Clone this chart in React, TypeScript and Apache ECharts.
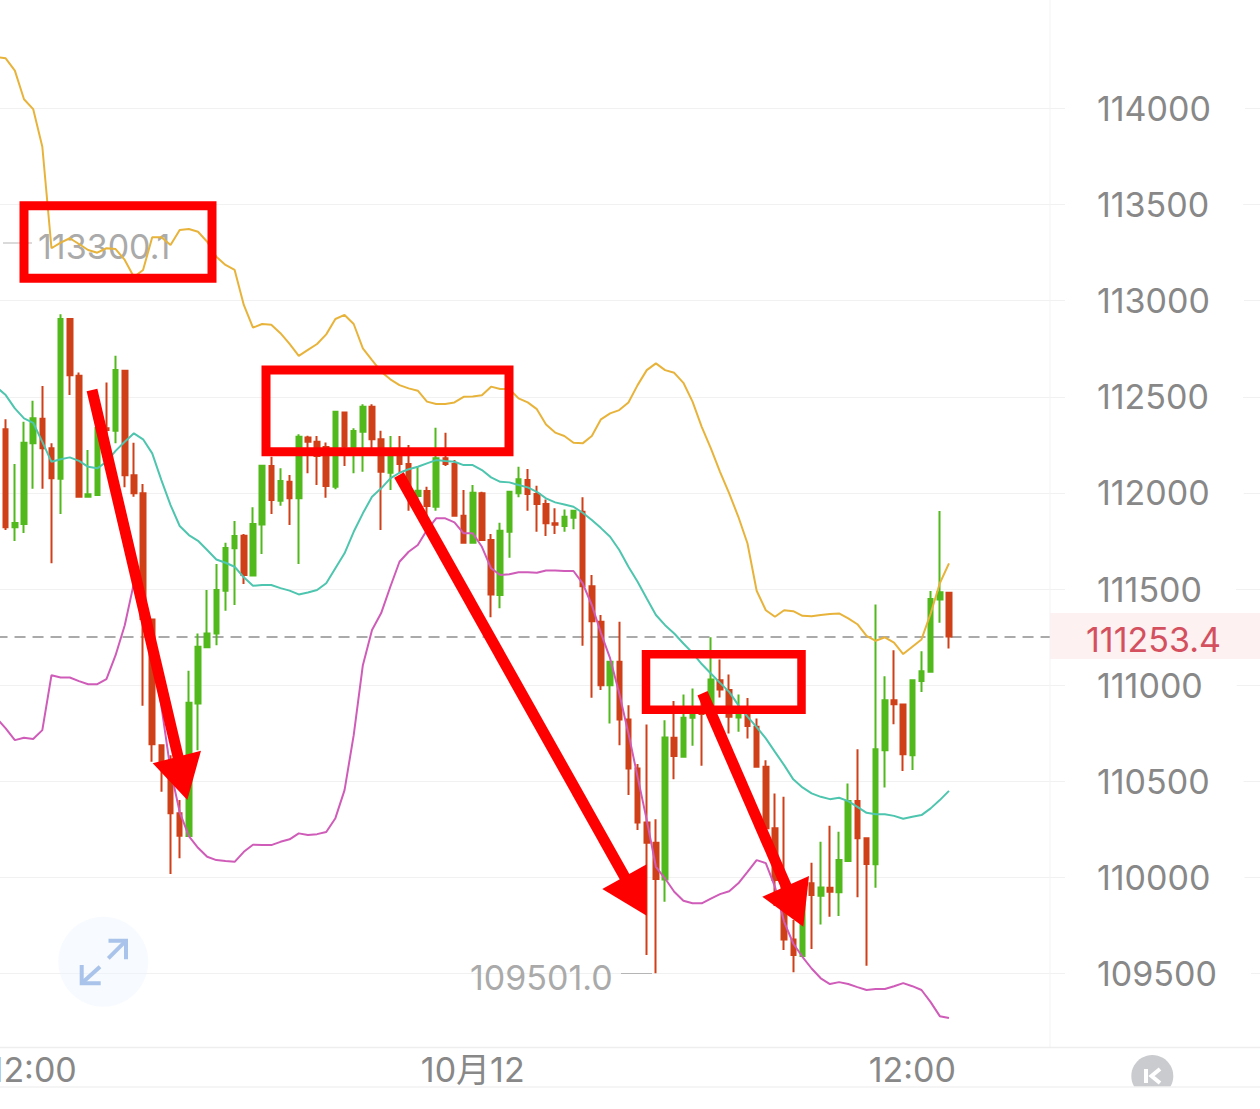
import React, { useEffect, useRef } from "react";
import * as echarts from "echarts";

// [open, close, low, high]
const candles: number[][] = [
  [112331,111821,111807,112384],[111822,111843,111750,112150],[111838,112261,111791,112370],[112258,112388,112022,112480],
  [112386,112232,112022,112556],[112232,112076,111634,112258],[112074,112905,111890,112929],[112905,112612,112509,112905],
  [112610,111980,111980,112627],[111980,111993,111980,112223],[111989,112338,111989,112495],[112336,112327,112223,112575],
  [112323,112639,112258,112714],[112636,112092,112029,112636],[112092,111998,111980,112261],[111998,111344,110893,112046],
  [111342,110692,110601,111342],[110688,110600,110445,110688],[110600,110333,110017,110636],[110333,110216,110099,110402],
  [110215,110908,110215,111075],[110905,111200,110662,111269],[111197,111269,111197,111495],[111269,111495,111208,111630],
  [111491,111713,111387,111741],[111712,111776,111417,111854],[111777,111573,111526,111786],[111571,111838,111571,111925],
  [111836,112141,111682,112141],[112140,111963,111890,112188],[111959,112062,111933,112128],[112058,111972,111833,112093],
  [111972,112292,111630,112305],[112289,112266,112102,112298],[112266,112192,112041,112296],[112239,112036,111975,112263],
  [112032,112422,112019,112422],[112419,112240,112140,112419],[112237,112322,112102,112336],[112318,112448,112110,112462],
  [112448,112279,112234,112462],[112279,112110,111807,112324],[112105,112188,112015,112296],[112223,112150,112103,112296],
  [112150,112006,111907,112249],[111984,112011,111954,112140],[112010,111932,111870,112032],[111928,112180,111907,112339],
  [112180,112150,112140,112313],[112150,111881,111881,112171],[111881,111741,111741,112015],[111741,112001,111741,112041],
  [111998,111755,111755,112006],[111755,111472,111353,111786],[111469,111803,111400,111845],[111798,112006,111663,112011],
  [111998,112071,111977,112136],[112067,111994,111907,112124],[111994,111942,111798,112037],[111942,111842,111776,111966],
  [111842,111834,111786,111920],[111828,111876,111798,111914],[111871,111907,111811,111907],[111902,111515,111205,111977],
  [111515,111333,110934,111573],[111330,111000,110975,111365],[111000,111122,110801,111122],[111122,110822,110688,111330],
  [110822,110567,110428,110896],[110567,110286,110246,110590],[110286,110180,109596,110796],[110180,109991,109501,110303],
  [109989,110728,109873,110818],[110726,110632,110511,110917],[110627,110830,110627,110952],[110830,110850,110685,110983],
  [110880,110850,110581,110948],[110896,111030,110896,111249],[111026,110978,110936,111134],[110975,110836,110749,111056],
  [110832,110887,110757,110952],[110848,110787,110723,110933],[110784,110575,110575,110827],[110575,110255,110255,110610],
  [110255,109986,109851,110437],[109986,109677,109622,110419],[109677,109596,109506,109778],[109591,109908,109591,109934],
  [109969,109908,109627,110076],[109904,109948,109755,110185],[109946,109925,109795,110268],[109923,110090,109799,110237],
  [110085,110397,110085,110489],[110397,110203,109896,110666],[110203,110069,109540,110203],[110068,110667,109946,111420],
  [110662,110922,110468,111047],[110922,110901,110797,111182],[110900,110640,110553,110900],[110636,111026,110558,111026],
  [111022,111073,110965,111177],[111070,111448,111070,111490],[111446,111483,111325,111906],[111481,111253,111191,111481],
];

// The first value of each band is the point just left of the visible area.
const upperBand = [
  114268,
  114261,114197,114048,113997,113801,113273,113302,113325,113295,113264,
  113250,113273,113269,113212,113123,113160,113330,113330,113290,113368,
  113373,113359,113307,113229,113186,113160,112978,112860,112879,112875,
  112831,112775,112713,112744,112775,112825,112905,112926,112879,112752,
  112691,112631,112591,112561,112544,112532,112475,112463,112463,112471,
  112500,112502,112508,112553,112541,112541,112492,112471,112436,112356,
  112314,112296,112261,112258,112296,112383,112414,112431,112471,112561,
  112639,112674,112639,112625,112573,112475,112344,112232,112110,111998,
  111876,111737,111491,111390,111356,111390,111385,111361,111358,111365,
  111370,111373,111347,111317,111257,111231,111249,111221,111162,111200,
  111238,111373,111530,111634,
];

const middleBand = [
  112551,
  112509,112440,112388,112365,112266,112162,112175,112185,112167,112136,
  112128,112162,112219,112266,112310,112279,112206,112067,111937,111828,
  111781,111751,111703,111654,111637,111616,111561,111517,111521,111521,
  111505,111492,111472,111482,111495,111530,111608,111686,111798,111894,
  111980,112024,112076,112105,112123,112136,112154,112171,112166,112162,
  112145,112145,112119,112081,112058,112055,112041,112029,112006,111972,
  111951,111940,111928,111897,111859,111817,111772,111703,111616,111538,
  111451,111365,111312,111269,111217,111168,111110,111061,111012,110965,
  110896,110836,110782,110723,110653,110584,110510,110468,110437,110419,
  110407,110414,110397,110367,110336,110328,110328,110320,110305,110315,
  110324,110359,110402,110450,
];

const lowerBand = [
  110829,
  110775,110714,110726,110720,110766,111052,111040,111040,111021,111005,
  111005,111031,111156,111312,111531,111442,111182,110891,110558,110340,
  110215,110154,110107,110090,110085,110081,110133,110170,110168,110168,
  110185,110198,110229,110220,110225,110236,110308,110454,110740,111104,
  111287,111375,111512,111642,111694,111729,111807,111868,111868,111847,
  111790,111790,111720,111608,111573,111577,111587,111587,111585,111597,
  111597,111594,111594,111530,111417,111271,111139,110957,110749,110523,
  110298,110055,109994,109925,109878,109865,109865,109890,109913,109928,
  109969,110029,110090,110074,109951,109769,109656,109587,109526,109475,
  109445,109455,109445,109429,109414,109419,109419,109434,109450,109434,
  109414,109351,109278,109268,
];

const CATEGORY_COUNT = 139;
const xTickLabels: Record<number, string> = { 4: "12:00", 52: "10月12", 100: "12:00" };
const xLabels = Array.from({ length: CATEGORY_COUNT }, (_, i) => xTickLabels[i] ?? "");
const lastPrice = 111253.4;
const highLabel = "113300.1";
const lowLabel = "109501.0";
const lastLabel = "111253.4";

const RED = "#ff0000";
const FONT = "Inter, 'Noto Sans CJK SC', sans-serif";
const FONT_SIZE = 34;
const arrow = (sx: number, sy: number, ex: number, ey: number, head: number[][]) => [
  { type: "line", z: 100, shape: { x1: sx, y1: sy, x2: ex, y2: ey }, style: { stroke: RED, lineWidth: 11 } },
  { type: "polygon", z: 100, shape: { points: head }, style: { fill: RED } },
];
const box = (x: number, y: number, w: number, h: number, lw: number) => ({
  type: "rect", z: 100, shape: { x, y, width: w, height: h }, style: { fill: "transparent", stroke: RED, lineWidth: lw },
});
const hline = (x1: number, y: number, x2: number, stroke: string, lw = 1, z = 1) => ({
  type: "line", z, shape: { x1, y1: y, x2, y2: y }, style: { stroke, lineWidth: lw },
});

export default function App() {
  const ref = useRef<HTMLDivElement>(null);
  useEffect(() => {
    document.body.style.margin = "0";
    document.body.style.overflow = "hidden";
    const chart = echarts.init(ref.current!, undefined, { renderer: "svg" });
    const lineSeries = (name: string, values: number[], color: string) => ({
      name, type: "line", data: values, symbol: "none", smooth: false, z: 3, connectNulls: false,
      lineStyle: { color, width: 2 }, silent: true,
    });
    const iconStroke = { stroke: "#a9c3ea", lineWidth: 4, fill: "none" };
    chart.setOption({
      animation: false,
      backgroundColor: "#ffffff",
      grid: { left: -8.04, right: -4.92, top: 12.4, bottom: 39.4, containLabel: false, outerBoundsMode: "none" },
      xAxis: {
        type: "category", data: xLabels, boundaryGap: true,
        axisLine: { show: false }, axisTick: { show: false }, splitLine: { show: false },
        axisLabel: {
          interval: (i: number) => xLabels[i] !== "", margin: 0, color: "#888888", fontSize: FONT_SIZE,
          fontFamily: FONT, verticalAlign: "middle",
        },
      },
      yAxis: {
        type: "value", position: "left", min: 109000, max: 114500, interval: 500, scale: true,
        axisLine: { show: false }, axisTick: { show: false },
        splitLine: { show: true, showMinLine: false, showMaxLine: false, lineStyle: { color: "#f1f1f1", width: 1 } },
        axisLabel: {
          inside: true, margin: 1073, showMinLabel: false, showMaxLabel: false,
          formatter: (v: number) => String(v), color: "#888888", fontSize: FONT_SIZE, fontFamily: FONT,
          backgroundColor: "#ffffff", padding: [9, 34, 0, 32],
        },
      },
      series: [
        {
          type: "candlestick", data: [["-", "-", "-", "-"], ...candles], barWidth: 5, z: 2, silent: true,
          itemStyle: { color: "#52b91d", color0: "#cf4019", borderColor: "#52b91d", borderColor0: "#cf4019", borderWidth: 2 },
          markLine: {
            silent: true, symbol: "none", z: 1, label: { show: false },
            lineStyle: { color: "#aaaaaa", width: 2, type: [11, 7] },
            data: [[{ coord: [0, lastPrice] }, { coord: [115, lastPrice] }]],
          },
        },
        lineSeries("upper", upperBand, "#e8b33a"),
        lineSeries("middle", middleBand, "#4ec5ae"),
        lineSeries("lower", lowerBand, "#cf5cb8"),
      ],
      graphic: { elements: [
        { type: "circle", z: 1, shape: { cx: 103.3, cy: 961.7, r: 45 }, style: { fill: "rgba(237,243,252,0.45)" } },
        { type: "polyline", z: 1, shape: { points: [[108.5, 940.7], [126, 940.7], [126, 959.3]] }, style: iconStroke },
        { type: "line", z: 1, shape: { x1: 126, y1: 940.7, x2: 108.3, y2: 958.3 }, style: iconStroke },
        { type: "polyline", z: 1, shape: { points: [[81.7, 965], [81.7, 983.3], [100.7, 983.3]] }, style: iconStroke },
        { type: "line", z: 1, shape: { x1: 81.7, y1: 983.3, x2: 100, y2: 966.7 }, style: iconStroke },
        hline(3, 243, 32, "#b5b5b5"),
        { type: "text", z: 1, x: 38, y: 246, style: { text: highLabel, fill: "#aaaaaa", font: `${FONT_SIZE}px ${FONT}`, textVerticalAlign: "middle" } },
        hline(621, 973.5, 652, "#b5b5b5"),
        { type: "text", z: 1, x: 470, y: 977, style: { text: lowLabel, fill: "#aaaaaa", font: `${FONT_SIZE}px ${FONT}`, textVerticalAlign: "middle" } },
        { type: "rect", z: 1, shape: { x: 1050, y: 613, width: 210, height: 46 }, style: { fill: "#fdf1f1" } },
        { type: "text", z: 6, x: 1086, y: 639, style: { text: lastLabel, fill: "#d4505f", font: `${FONT_SIZE}px ${FONT}`, textVerticalAlign: "middle" } },
        { type: "line", z: 1, shape: { x1: 1050, y1: 0, x2: 1050, y2: 1047 }, style: { stroke: "#f3f3f3", lineWidth: 1 } },
        hline(0, 1047.5, 1260, "#eeeeee", 1.5),
        { type: "circle", z: 1, shape: { cx: 1152.3, cy: 1076, r: 21 }, style: { fill: "#c9cbcf" } },
        { type: "line", z: 1, shape: { x1: 1146, y1: 1069, x2: 1146, y2: 1083 }, style: { stroke: "#ffffff", lineWidth: 4 } },
        { type: "polyline", z: 1, shape: { points: [[1160, 1069], [1151.5, 1076], [1160, 1083]] }, style: { stroke: "#ffffff", lineWidth: 4, fill: "none" } },
        { type: "rect", z: 1, shape: { x: 0, y: 1087, width: 1260, height: 22 }, style: { fill: "#ffffff" } },
        hline(0, 1087, 1260, "#f2f2f2", 1.5),
        box(24, 205.7, 188, 72.5, 9),
        box(266, 370, 243, 81.7, 9),
        box(646, 654.3, 155.5, 55.5, 8.5),
        ...arrow(92, 390, 180, 765, [[152.7, 763.3], [201, 750.7], [187.3, 800]]),
        ...arrow(399, 475, 632, 890, [[602.3, 889], [646.7, 864.3], [646.7, 915.7]]),
        ...arrow(702.5, 693.3, 790, 895, [[762.3, 896.7], [809, 876], [803.3, 926.7]]),
      ] },
    });
    return () => chart.dispose();
  }, []);
  return <div ref={ref} style={{ width: 1260, height: 1109 }} />;
}
